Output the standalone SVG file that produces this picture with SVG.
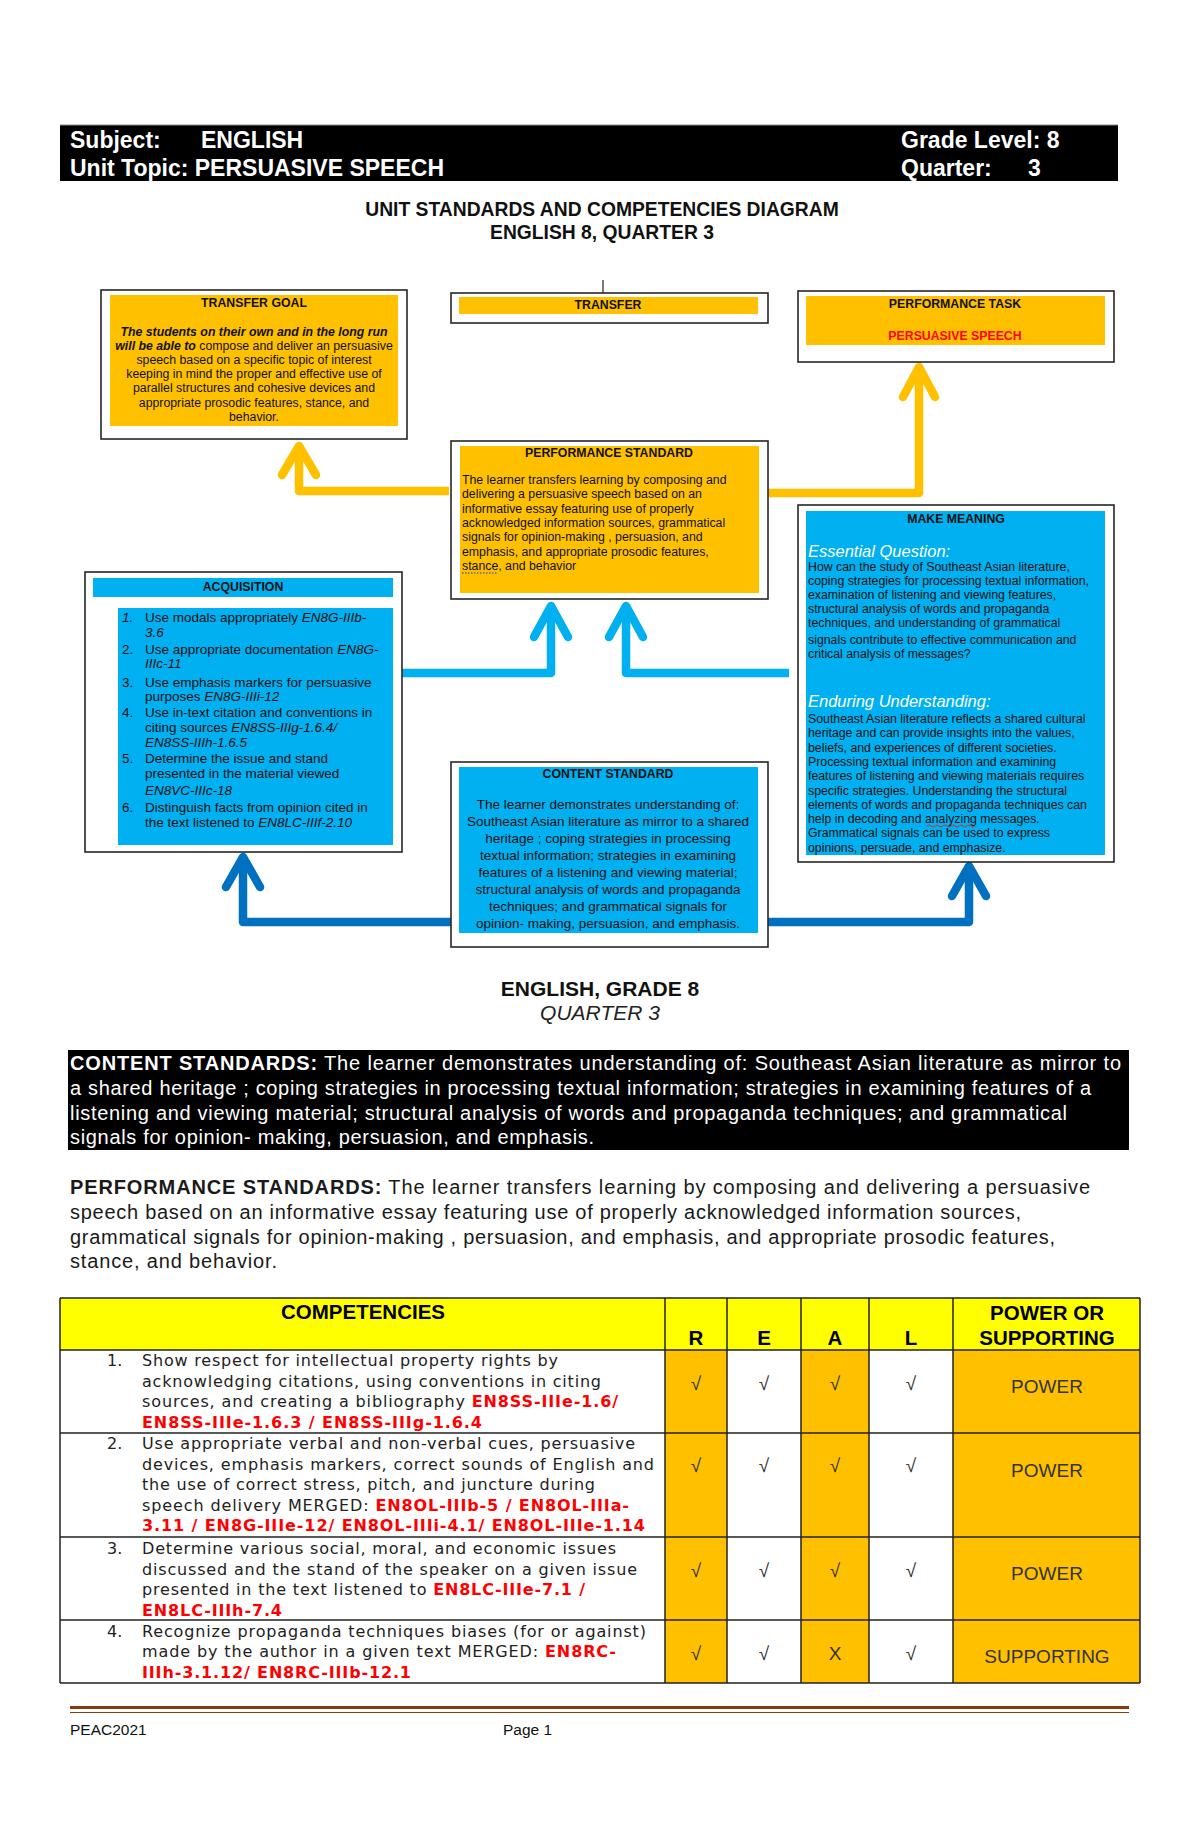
<svg xmlns="http://www.w3.org/2000/svg" width="1200" height="1835" viewBox="0 0 1200 1835">
<style>
text{font-family:"Liberation Sans",Arial,sans-serif;fill:#111}
.box{fill:#fff;stroke:#262626;stroke-width:1.6}
.yel{fill:#FFC000}
.blu{fill:#00B0F0}
.h{font-weight:bold;font-size:12.3px;text-anchor:middle}
.s{font-size:12.3px}
.c{text-anchor:middle}
.bi{font-weight:bold;font-style:italic}
.i{font-style:italic}
.acq{font-size:13.5px}
.cs{font-size:13.5px;text-anchor:middle}
.wi{fill:#fff;font-style:italic;font-size:16.5px}
.arr{fill:none;stroke-width:8.5;stroke-linejoin:round}
.hd{stroke-linecap:round}
.y{stroke:#FFC000}
.lb{stroke:#00B0F0}
.db{stroke:#0070C0}
.big{font-size:20px}
.hdr{font-size:23px;font-weight:bold}
.cp{font-family:"DejaVu Sans",Verdana,sans-serif;font-size:16px;fill:#222}
.red{fill:#FF0000;font-weight:bold}
.th{font-weight:bold;font-size:20.5px;text-anchor:middle;fill:#000}
.ck{font-size:19px;text-anchor:middle;fill:#333}
.grid{stroke:#222;stroke-width:1.5;fill:none}
</style>

<!-- Header bar -->
<g id="header">
<rect x="60" y="125" width="1058" height="56" fill="#000"/>
<line x1="60" y1="125" x2="1118" y2="125" stroke="#888" stroke-width="1"/>
<text class="hdr" x="70" y="148" style="fill:#fff">Subject:</text>
<text class="hdr" x="201" y="148" style="fill:#fff">ENGLISH</text>
<text class="hdr" x="901" y="148" style="fill:#fff">Grade Level: 8</text>
<text class="hdr" x="70" y="176" style="fill:#fff">Unit Topic: PERSUASIVE SPEECH</text>
<text class="hdr" x="901" y="176" style="fill:#fff">Quarter:</text>
<text class="hdr" x="1028" y="176" style="fill:#fff">3</text>
</g>

<g id="title">
<text x="602" y="216" font-size="19.3" font-weight="bold" text-anchor="middle">UNIT STANDARDS AND COMPETENCIES DIAGRAM</text>
<text x="602" y="239" font-size="19.3" font-weight="bold" text-anchor="middle">ENGLISH 8, QUARTER 3</text>
</g>

<!-- Connectors -->
<g id="connectors">
<line x1="603" y1="280" x2="603" y2="293" stroke="#222" stroke-width="1.2"/>
<path class="arr y" d="M449,491 H299 V450"/>
<path class="arr y hd" d="M282,475 L299,446 L316,475"/>
<path class="arr y" d="M767,493 H919 V370"/>
<path class="arr y hd" d="M903,397 L919,367 L935,397"/>
<path class="arr lb" d="M402,673 H551 V610"/>
<path class="arr lb hd" d="M534,637 L551,606 L568,637"/>
<path class="arr lb" d="M789,673 H626 V610"/>
<path class="arr lb hd" d="M609,637 L626,606 L643,637"/>
<path class="arr db" d="M451,922 H243 V860"/>
<path class="arr db hd" d="M226,887 L243,857 L260,887"/>
<path class="arr db" d="M767,922 H969 V869"/>
<path class="arr db hd" d="M952,896 L969,866 L986,896"/>
</g>

<!-- Transfer Goal -->
<g id="transfer-goal">
<rect class="box" x="101" y="290" width="306" height="149"/>
<rect class="yel" x="110" y="295" width="288" height="131"/>
<text class="h" x="254" y="307">TRANSFER GOAL</text>
<text class="s c bi" x="254" y="336">The students on their own and in the long run</text>
<text class="s c" x="254" y="350"><tspan class="bi">will be able to</tspan> compose and deliver an persuasive</text>
<text class="s c" x="254" y="364">speech based on a specific topic of interest</text>
<text class="s c" x="254" y="378">keeping in mind the proper and effective use of</text>
<text class="s c" x="254" y="392">parallel structures and cohesive devices and</text>
<text class="s c" x="254" y="407">appropriate prosodic features, stance, and</text>
<text class="s c" x="254" y="421">behavior.</text>
</g>

<!-- Transfer -->
<g id="transfer">
<rect class="box" x="451" y="293" width="317" height="30"/>
<rect class="yel" x="459" y="297" width="299" height="17"/>
<text class="h" x="608" y="309">TRANSFER</text>
</g>

<!-- Performance Task -->
<g id="performance-task">
<rect class="box" x="798" y="291" width="316" height="71"/>
<rect class="yel" x="806" y="296" width="299" height="49"/>
<text class="h" x="955" y="308">PERFORMANCE TASK</text>
<text class="h" x="955" y="340" style="fill:#FF0000">PERSUASIVE SPEECH</text>
</g>

<!-- Performance Standard -->
<g id="performance-standard">
<rect class="box" x="451" y="441" width="317" height="158"/>
<rect class="yel" x="460" y="446" width="299" height="147"/>
<text class="h" x="609" y="457">PERFORMANCE STANDARD</text>
<text class="s" x="462" y="484">The learner transfers learning by composing and</text>
<text class="s" x="462" y="498">delivering a persuasive speech based on an</text>
<text class="s" x="462" y="513">informative essay featuring use of properly</text>
<text class="s" x="462" y="527">acknowledged information sources, grammatical</text>
<text class="s" x="462" y="541">signals for opinion-making , persuasion, and</text>
<text class="s" x="462" y="556">emphasis, and appropriate prosodic features,</text>
<text class="s" x="462" y="570">stance, and behavior</text>
<line x1="462" y1="573" x2="497" y2="573" stroke="#2233cc" stroke-width="1" stroke-dasharray="1.5 1.5"/>
</g>

<!-- Acquisition -->
<g id="acquisition">
<rect class="box" x="85" y="572" width="317" height="280"/>
<rect class="blu" x="93" y="578" width="300" height="19"/>
<text class="h" x="243" y="591">ACQUISITION</text>
<rect class="blu" x="118" y="608" width="275" height="237"/>
<text class="acq i" x="122" y="622">1.</text><text class="acq" x="145" y="622">Use modals appropriately <tspan class="i">EN8G-IIIb-</tspan></text>
<text class="acq i" x="145" y="637">3.6</text>
<text class="acq" x="122" y="654">2.</text><text class="acq" x="145" y="654">Use appropriate documentation <tspan class="i">EN8G-</tspan></text>
<text class="acq i" x="145" y="668">IIIc-11</text>
<text class="acq" x="122" y="687">3.</text><text class="acq" x="145" y="687">Use emphasis markers for persuasive</text>
<text class="acq" x="145" y="701">purposes <tspan class="i">EN8G-IIIi-12</tspan></text>
<text class="acq" x="122" y="717">4.</text><text class="acq" x="145" y="717">Use in-text citation and conventions in</text>
<text class="acq" x="145" y="732">citing sources <tspan class="i">EN8SS-IIIg-1.6.4/</tspan></text>
<text class="acq i" x="145" y="747">EN8SS-IIIh-1.6.5</text>
<text class="acq" x="122" y="763">5.</text><text class="acq" x="145" y="763">Determine the issue and stand</text>
<text class="acq" x="145" y="778">presented in the material viewed</text>
<text class="acq i" x="145" y="795">EN8VC-IIIc-18</text>
<text class="acq" x="122" y="812">6.</text><text class="acq" x="145" y="812">Distinguish facts from opinion cited in</text>
<text class="acq" x="145" y="827">the text listened to <tspan class="i">EN8LC-IIIf-2.10</tspan></text>
</g>

<!-- Make Meaning -->
<g id="make-meaning">
<rect class="box" x="798" y="505" width="316" height="357"/>
<rect class="blu" x="806" y="511" width="299" height="344"/>
<text class="h" x="956" y="523">MAKE MEANING</text>
<text class="wi" x="808" y="557">Essential Question:</text>
<text class="s" x="808" y="571">How can the study of Southeast Asian literature,</text>
<text class="s" x="808" y="585">coping strategies for processing textual information,</text>
<text class="s" x="808" y="599">examination of listening and viewing features,</text>
<text class="s" x="808" y="613">structural analysis of words and propaganda</text>
<text class="s" x="808" y="627">techniques, and understanding of grammatical</text>
<text class="s" x="808" y="644">signals contribute to effective communication and</text>
<text class="s" x="808" y="658">critical analysis of messages?</text>
<text class="wi" x="808" y="707">Enduring Understanding:</text>
<text class="s" x="808" y="723">Southeast Asian literature reflects a shared cultural</text>
<text class="s" x="808" y="737">heritage and can provide insights into the values,</text>
<text class="s" x="808" y="752">beliefs, and experiences of different societies.</text>
<text class="s" x="808" y="766">Processing textual information and examining</text>
<text class="s" x="808" y="780">features of listening and viewing materials requires</text>
<text class="s" x="808" y="795">specific strategies. Understanding the structural</text>
<text class="s" x="808" y="809">elements of words and propaganda techniques can</text>
<text class="s" x="808" y="823">help in decoding and analyzing messages.</text>
<text class="s" x="808" y="837">Grammatical signals can be used to express</text>
<text class="s" x="808" y="852">opinions, persuade, and emphasize.</text>
<path d="M927,826 q2,-2 4,0 t4,0 t4,0 t4,0 t4,0 t4,0 t4,0 t4,0 t4,0 t4,0 t4,0 t4,0" fill="none" stroke="#e02020" stroke-width="0.9"/>
</g>

<!-- Content Standard -->
<g id="content-standard">
<rect class="box" x="451" y="762" width="317" height="185"/>
<rect class="blu" x="459" y="767" width="299" height="166"/>
<text class="h" x="608" y="778">CONTENT STANDARD</text>
<text class="cs" x="608" y="809">The learner demonstrates understanding of:</text>
<text class="cs" x="608" y="826">Southeast Asian literature as mirror to a shared</text>
<text class="cs" x="608" y="843">heritage ; coping strategies in processing</text>
<text class="cs" x="608" y="860">textual information; strategies in examining</text>
<text class="cs" x="608" y="877">features of a listening and viewing material;</text>
<text class="cs" x="608" y="894">structural analysis of words and propaganda</text>
<text class="cs" x="608" y="911">techniques; and grammatical signals for</text>
<text class="cs" x="608" y="928">opinion- making, persuasion, and emphasis.</text>
</g>

<!-- Lower section -->
<g id="grade-heading">
<text x="600" y="996" font-size="21" font-weight="bold" text-anchor="middle">ENGLISH, GRADE 8</text>
<text x="600" y="1020" font-size="21" font-style="italic" text-anchor="middle" style="fill:#222">QUARTER 3</text>
</g>

<g id="content-standards">
<rect x="68" y="1050" width="1061" height="100" fill="#000"/>
<text class="big" x="70" y="1070" textLength="1051" lengthAdjust="spacing" style="fill:#fff"><tspan font-weight="bold">CONTENT STANDARDS:</tspan>  The learner demonstrates understanding of: Southeast Asian literature as mirror to</text>
<text class="big" x="70" y="1095" textLength="1021" lengthAdjust="spacing" style="fill:#fff">a shared heritage ; coping strategies in processing textual information; strategies in examining features of a</text>
<text class="big" x="70" y="1120" textLength="997" lengthAdjust="spacing" style="fill:#fff">listening and viewing material; structural analysis of words and propaganda techniques; and grammatical</text>
<text class="big" x="70" y="1144" textLength="524" lengthAdjust="spacing" style="fill:#fff">signals for opinion- making, persuasion, and emphasis.</text>
</g>

<g id="performance-standards">
<text class="big" x="70" y="1194" textLength="1020" lengthAdjust="spacing" style="fill:#1a1a1a"><tspan font-weight="bold">PERFORMANCE STANDARDS:</tspan>  The learner transfers learning by composing and delivering a persuasive</text>
<text class="big" x="70" y="1219" textLength="951" lengthAdjust="spacing" style="fill:#1a1a1a">speech based on an informative essay featuring use of properly acknowledged information sources,</text>
<text class="big" x="70" y="1244" textLength="985" lengthAdjust="spacing" style="fill:#1a1a1a">grammatical signals for opinion-making , persuasion, and emphasis, and appropriate prosodic features,</text>
<text class="big" x="70" y="1268" textLength="207" lengthAdjust="spacing" style="fill:#1a1a1a">stance, and behavior.</text>
</g>

<!-- Table -->
<g id="competencies-table">
<rect x="60" y="1298" width="1080" height="52" fill="#FFFF00"/>
<rect x="665" y="1350" width="62" height="333" fill="#FFC000"/>
<rect x="801" y="1350" width="68" height="333" fill="#FFC000"/>
<rect x="953" y="1350" width="187" height="333" fill="#FFC000"/>
<path class="grid" d="M60,1298 H1140 M60,1350 H1140 M60,1433 H1140 M60,1537 H1140 M60,1620 H1140 M60,1683 H1140 M60,1298 V1683 M665,1298 V1683 M727,1298 V1683 M801,1298 V1683 M869,1298 V1683 M953,1298 V1683 M1140,1298 V1683"/>
<text class="th" x="363" y="1319">COMPETENCIES</text>
<text class="th" x="696" y="1345">R</text>
<text class="th" x="764" y="1345">E</text>
<text class="th" x="835" y="1345">A</text>
<text class="th" x="911" y="1345">L</text>
<text class="th" x="1047" y="1320">POWER OR</text>
<text class="th" x="1047" y="1345">SUPPORTING</text>

<text class="cp" x="107" y="1366">1.</text>
<text class="cp" x="142" y="1366" textLength="416" lengthAdjust="spacing">Show respect for intellectual property rights by</text>
<text class="cp" x="142" y="1387" textLength="459" lengthAdjust="spacing">acknowledging citations, using conventions in citing</text>
<text class="cp" x="142" y="1407" textLength="476" lengthAdjust="spacing">sources, and creating a bibliography <tspan class="red">EN8SS-IIIe-1.6/</tspan></text>
<text class="cp red" x="142" y="1428" textLength="340" lengthAdjust="spacing">EN8SS-IIIe-1.6.3 / EN8SS-IIIg-1.6.4</text>

<text class="cp" x="107" y="1449">2.</text>
<text class="cp" x="142" y="1449" textLength="493" lengthAdjust="spacing">Use appropriate verbal and non-verbal cues, persuasive</text>
<text class="cp" x="142" y="1470" textLength="512" lengthAdjust="spacing">devices, emphasis markers, correct sounds of English and</text>
<text class="cp" x="142" y="1490" textLength="453" lengthAdjust="spacing">the use of correct stress, pitch, and juncture during</text>
<text class="cp" x="142" y="1511" textLength="487" lengthAdjust="spacing">speech delivery MERGED: <tspan class="red">EN8OL-IIIb-5 / EN8OL-IIIa-</tspan></text>
<text class="cp red" x="142" y="1531" textLength="503" lengthAdjust="spacing">3.11 / EN8G-IIIe-12/ EN8OL-IIIi-4.1/ EN8OL-IIIe-1.14</text>

<text class="cp" x="107" y="1554">3.</text>
<text class="cp" x="142" y="1554" textLength="474" lengthAdjust="spacing">Determine various social, moral, and economic issues</text>
<text class="cp" x="142" y="1575" textLength="495" lengthAdjust="spacing">discussed and the stand of the speaker on a given issue</text>
<text class="cp" x="142" y="1595" textLength="443" lengthAdjust="spacing">presented in the text listened to <tspan class="red">EN8LC-IIIe-7.1 /</tspan></text>
<text class="cp red" x="142" y="1616" textLength="140" lengthAdjust="spacing">EN8LC-IIIh-7.4</text>

<text class="cp" x="107" y="1637">4.</text>
<text class="cp" x="142" y="1637" textLength="504" lengthAdjust="spacing">Recognize propaganda techniques biases (for or against)</text>
<text class="cp" x="142" y="1657" textLength="474" lengthAdjust="spacing">made by the author in a given text MERGED: <tspan class="red">EN8RC-</tspan></text>
<text class="cp red" x="142" y="1678" textLength="269" lengthAdjust="spacing">IIIh-3.1.12/ EN8RC-IIIb-12.1</text>

<text class="ck" x="696" y="1390">√</text><text class="ck" x="764" y="1390">√</text><text class="ck" x="835" y="1390">√</text><text class="ck" x="911" y="1390">√</text>
<text class="ck" x="696" y="1472">√</text><text class="ck" x="764" y="1472">√</text><text class="ck" x="835" y="1472">√</text><text class="ck" x="911" y="1472">√</text>
<text class="ck" x="696" y="1577">√</text><text class="ck" x="764" y="1577">√</text><text class="ck" x="835" y="1577">√</text><text class="ck" x="911" y="1577">√</text>
<text class="ck" x="696" y="1660">√</text><text class="ck" x="764" y="1660">√</text><text class="ck" x="835" y="1660">X</text><text class="ck" x="911" y="1660">√</text>
<text class="ck" x="1047" y="1393">POWER</text>
<text class="ck" x="1047" y="1477">POWER</text>
<text class="ck" x="1047" y="1580">POWER</text>
<text class="ck" x="1047" y="1663">SUPPORTING</text>
</g>

<!-- Footer -->
<g id="footer">
<line x1="70" y1="1707.5" x2="1129" y2="1707.5" stroke="#833C0B" stroke-width="3"/>
<line x1="70" y1="1712.5" x2="1129" y2="1712.5" stroke="#833C0B" stroke-width="1"/>
<text x="70" y="1735" font-size="15.5">PEAC2021</text>
<text x="503" y="1735" font-size="15.5">Page 1</text>
</g>
</svg>
